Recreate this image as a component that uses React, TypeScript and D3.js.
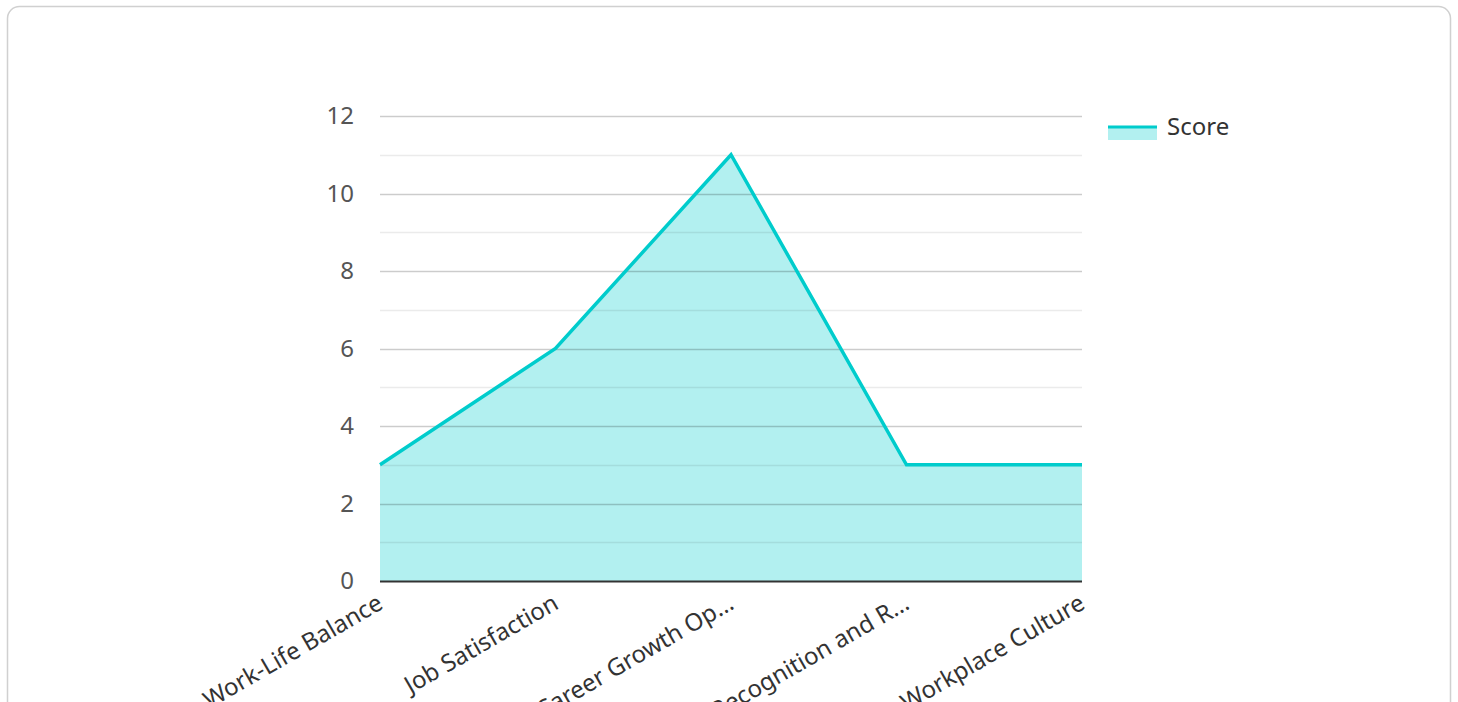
import { useRef, useEffect } from 'react';
import * as d3 from 'd3';

const categories = [
  'Work-Life Balance',
  'Job Satisfaction',
  'Career Growth Op…',
  'Recognition and R…',
  'Workplace Culture',
];
const scores = [3, 6, 11, 3, 3];
const yTicks = [0, 2, 4, 6, 8, 10, 12];
const seriesName = 'Score';

const FONT = "'Noto Sans', 'Open Sans', sans-serif";
const TEAL = '#00cccc';

export default function App() {
  const ref = useRef<SVGSVGElement | null>(null);

  useEffect(() => {
    const svg = d3.select(ref.current);
    svg.selectAll('*').remove();

    const width = 1458;
    const height = 702;
    const margin = { top: 116, right: 376, bottom: 121, left: 380 };

    // card
    svg
      .append('rect')
      .attr('x', 7.5)
      .attr('y', 6.5)
      .attr('width', 1443)
      .attr('height', 740)
      .attr('rx', 12)
      .attr('fill', '#fff')
      .attr('stroke', '#d0d0d0')
      .attr('stroke-width', 1.5);

    const x = d3
      .scalePoint<string>()
      .domain(categories)
      .range([margin.left, width - margin.right]);

    const y = d3
      .scaleLinear()
      .domain([0, 12])
      .range([height - margin.bottom, margin.top]);

    const data = categories.map((c, i) => ({ c, v: scores[i] }));

    // area
    const area = d3
      .area<{ c: string; v: number }>()
      .x((d) => x(d.c)!)
      .y0(y(0))
      .y1((d) => y(d.v));
    svg.append('path').attr('d', area(data)).attr('fill', TEAL).attr('opacity', 0.3);

    // grid (minor + major), drawn over the fill
    const minor = d3.range(1, 12, 2);
    svg
      .selectAll('.minor')
      .data(minor)
      .enter()
      .append('line')
      .attr('x1', margin.left)
      .attr('x2', width - margin.right)
      .attr('y1', (d) => Math.round(y(d)) + 0.5)
      .attr('y2', (d) => Math.round(y(d)) + 0.5)
      .attr('stroke', '#000')
      .attr('stroke-opacity', 0.08)
      .attr('stroke-width', 1.5);
    svg
      .selectAll('.major')
      .data(yTicks.filter((t) => t > 0))
      .enter()
      .append('line')
      .attr('x1', margin.left)
      .attr('x2', width - margin.right)
      .attr('y1', (d) => Math.round(y(d)) + 0.5)
      .attr('y2', (d) => Math.round(y(d)) + 0.5)
      .attr('stroke', '#000')
      .attr('stroke-opacity', 0.2)
      .attr('stroke-width', 1.5);

    // baseline
    svg
      .append('line')
      .attr('x1', margin.left)
      .attr('x2', width - margin.right)
      .attr('y1', y(0) + 0.5)
      .attr('y2', y(0) + 0.5)
      .attr('stroke', '#333')
      .attr('stroke-width', 2);

    // line
    const line = d3
      .line<{ c: string; v: number }>()
      .x((d) => x(d.c)!)
      .y((d) => y(d.v));
    svg
      .append('path')
      .attr('d', line(data))
      .attr('fill', 'none')
      .attr('stroke', TEAL)
      .attr('stroke-width', 3.5)
      .attr('stroke-linejoin', 'miter');

    // y tick labels
    svg
      .selectAll('.ytick')
      .data(yTicks)
      .enter()
      .append('text')
      .attr('x', 354)
      .attr('y', (d) => y(d))
      .attr('dy', '0.35em')
      .attr('text-anchor', 'end')
      .attr('font-family', FONT)
      .attr('font-size', '24px')
      .attr('fill', '#555')
      .text((d) => d);

    // x labels
    svg
      .selectAll('.xlabel')
      .data(categories)
      .enter()
      .append('text')
      .attr('transform', (d) => `translate(${x(d)! - 4},${y(0) + 12}) rotate(-30)`)
      .attr('dy', '0.71em')
      .attr('text-anchor', 'end')
      .attr('font-family', FONT)
      .attr('font-size', '24px')
      .attr('fill', '#333')
      .text((d) => d);

    // legend
    const lg = svg.append('g').attr('transform', 'translate(1108,127)');
    lg.append('rect').attr('x', 0).attr('y', 0).attr('width', 49).attr('height', 13).attr('fill', TEAL).attr('opacity', 0.3);
    lg.append('line').attr('x1', 0).attr('x2', 49).attr('y1', 0).attr('y2', 0).attr('stroke', TEAL).attr('stroke-width', 3);
    lg.append('text')
      .attr('x', 59)
      .attr('y', 0)
      .attr('dy', '0.35em')
      .attr('font-family', FONT)
      .attr('font-size', '24px')
      .attr('fill', '#333')
      .text(seriesName);
  }, []);

  return (
    <svg
      ref={ref}
      width={1458}
      height={702}
      style={{ position: 'absolute', left: 0, top: 0, display: 'block' }}
    />
  );
}
